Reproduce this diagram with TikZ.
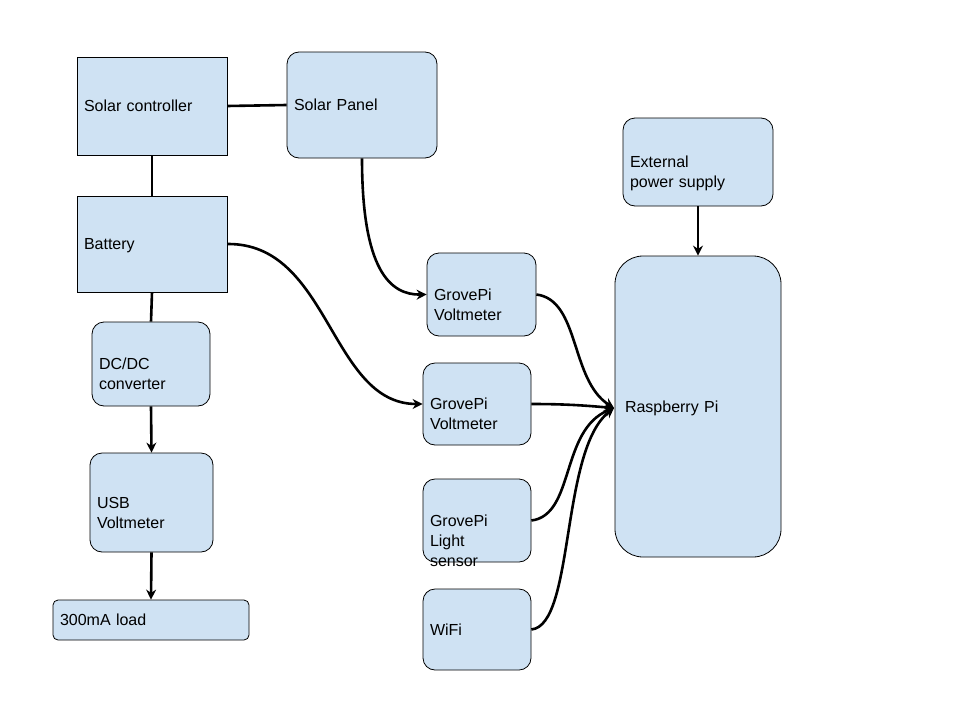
\documentclass[tikz,border=0pt]{standalone}
\usepackage{fontspec}
\setmainfont{Liberation Sans}
\usetikzlibrary{arrows.meta}
\begin{document}
\begin{tikzpicture}[x=1pt,y=-1pt,
  box/.style={draw=black, line width=0.8pt, fill=boxblue, align=left, inner sep=0pt,
    font=\fontsize{16}{20}\selectfont, text depth=0pt},
  rbox/.style={box, rounded corners=12pt},
  wire/.style={line width=2.6pt},
  arr/.style={wire, -{Stealth[length=10pt,width=10pt]}}]
\definecolor{boxblue}{HTML}{CFE2F3}
\useasboundingbox (0,0) rectangle (960,720);
\node[box, minimum width=150, minimum height=98, text width=136] (sc) at (152,106) {Solar controller};
\node[rbox, minimum width=150, minimum height=106, text width=136] (sp) at (362,105) {Solar Panel};
\node[box, minimum width=150, minimum height=96, text width=136] (bat) at (152,244) {Battery};
\node[rbox, minimum width=118, minimum height=84, text width=104] (dc) at (151,364) {DC/DC\\converter};
\node[rbox, minimum width=123, minimum height=99, text width=109] (usb) at (151.5,502.5) {USB\\Voltmeter};
\node[rbox, rounded corners=5pt, minimum width=196, minimum height=40, text width=182] (load) at (151,620) {300mA load};
\node[rbox, minimum width=150, minimum height=88, text width=136] (ext) at (698,162) {External\\power supply};
\node[rbox, rounded corners=28pt, minimum width=166, minimum height=301, text width=146] (rpi) at (698,406.5) {Raspberry Pi};
\node[rbox, minimum width=109, minimum height=83, text width=95] (g1) at (481.5,294.5) {GrovePi\\Voltmeter};
\node[rbox, minimum width=108, minimum height=82, text width=94] (g2) at (477,404) {GrovePi\\Voltmeter};
\node[rbox, minimum width=108, minimum height=83, text width=94] (g3) at (477,520.5) {GrovePi\\Light\\sensor};
\node[rbox, minimum width=108, minimum height=81, text width=94] (wifi) at (477,629.5) {WiFi};
\coordinate (rin) at (614,408);
\draw[wire] (sc.east) -- (sp.west);
\draw[wire] (sc.south) -- (bat.north);
\draw[wire] (bat.south) -- (dc.north);
\draw[arr] (dc.south) -- (usb.north);
\draw[arr] (usb.south) -- (load.north);
\draw[arr] (ext.south) -- (rpi.north);
\draw[arr] (sp.south) .. controls (362,270) and (390,295) .. (g1.west);
\draw[arr] (bat.east) .. controls (330,243) and (330,404) .. (g2.west);
\draw[arr] (g1.east) .. controls (580,300) and (570,380) .. (rin);
\draw[arr] (g2.east) .. controls (570,404) and (590,406) .. (rin);
\draw[arr] (g3.east) .. controls (575,515) and (560,430) .. (rin);
\draw[arr] (wifi.east) .. controls (575,625) and (560,450) .. (rin);
\end{tikzpicture}
\end{document}
